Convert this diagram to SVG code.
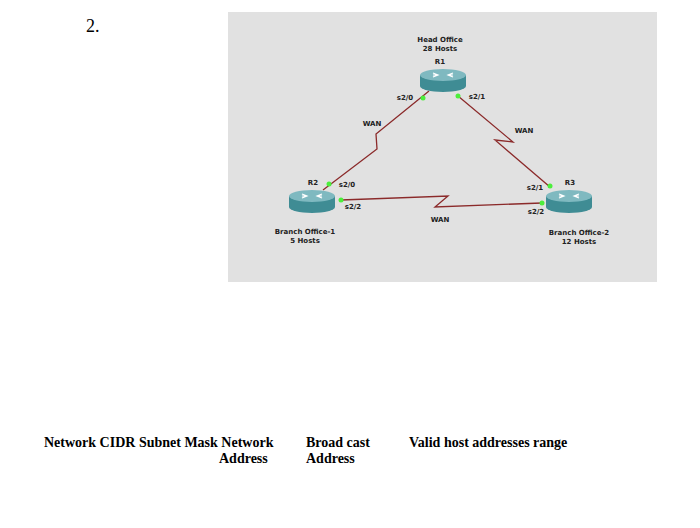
<svg xmlns="http://www.w3.org/2000/svg" width="700" height="528" viewBox="0 0 700 528">
<defs>
<style>
.l{font-family:"DejaVu Sans",sans-serif;font-weight:bold;font-size:7px;fill:#222;text-anchor:middle}
.t{font-family:"Liberation Serif",serif;font-weight:bold;font-size:14px;fill:#000}
.w{fill:none;stroke:#8b2a2a;stroke-width:1.3}
.d{fill:#4cee3c}
</style>
<g id="router">
<path d="M-23,-6 L-23,5 A23,6 0 0 0 23,5 L23,-6 Z" fill="#3f8c94"/>
<ellipse cx="0" cy="-6" rx="23" ry="6" fill="#7fb9c0"/>
<path d="M-10,-8 l5,2 -5,2 M10,-8 l-5,2 5,2 M-5,-6 h-5 M5,-6 h5" stroke="#fff" stroke-width="1.2" fill="none"/>
</g>
</defs>
<rect width="700" height="528" fill="#fff"/>
<text x="86" y="32" font-family="Liberation Serif,serif" font-size="18">2.</text>
<rect x="228" y="12" width="429" height="270" fill="#e1e1e1"/>
<g id="connectors">
<polyline class="w" points="429,91 376,134 377,149 323,190"/>
<polyline class="w" points="458,96 513,142 495,140 550,187"/>
<polyline class="w" points="341,200 448,196 435,207 542,203"/>
</g>
<g id="R1"><use href="#router" x="443" y="81"/><text class="l" x="440" y="42">Head Office</text><text class="l" x="440" y="51">28 Hosts</text><text class="l" x="440" y="64">R1</text></g>
<g id="R2"><use href="#router" x="312" y="202"/><text class="l" x="313" y="185">R2</text><text class="l" x="305" y="234">Branch Office-1</text><text class="l" x="305" y="243">5 Hosts</text></g>
<g id="R3"><use href="#router" x="569" y="202"/><text class="l" x="570" y="185">R3</text><text class="l" x="579" y="235">Branch Office-2</text><text class="l" x="579" y="244">12 Hosts</text></g>
<g id="ports">
<circle class="d" cx="423" cy="98" r="2.5"/><circle class="d" cx="458" cy="96" r="2.5"/>
<circle class="d" cx="329" cy="184" r="2.5"/><circle class="d" cx="341" cy="200" r="2.5"/>
<circle class="d" cx="550" cy="186" r="2.5"/><circle class="d" cx="542" cy="203" r="2.5"/>
<text class="l" x="405" y="100">s2/0</text><text class="l" x="477" y="99">s2/1</text>
<text class="l" x="347" y="187">s2/0</text><text class="l" x="353" y="209">s2/2</text>
<text class="l" x="535" y="190">s2/1</text><text class="l" x="536" y="214">s2/2</text>
<text class="l" x="372" y="126">WAN</text><text class="l" x="524" y="133">WAN</text><text class="l" x="440" y="222">WAN</text>
</g>
<text class="t" x="44" y="447">Network CIDR Subnet Mask Network</text>
<text class="t" x="219" y="463">Address</text>
<text class="t" x="306" y="447">Broad cast</text>
<text class="t" x="306" y="463">Address</text>
<text class="t" x="409" y="447">Valid host addresses range</text>
</svg>
